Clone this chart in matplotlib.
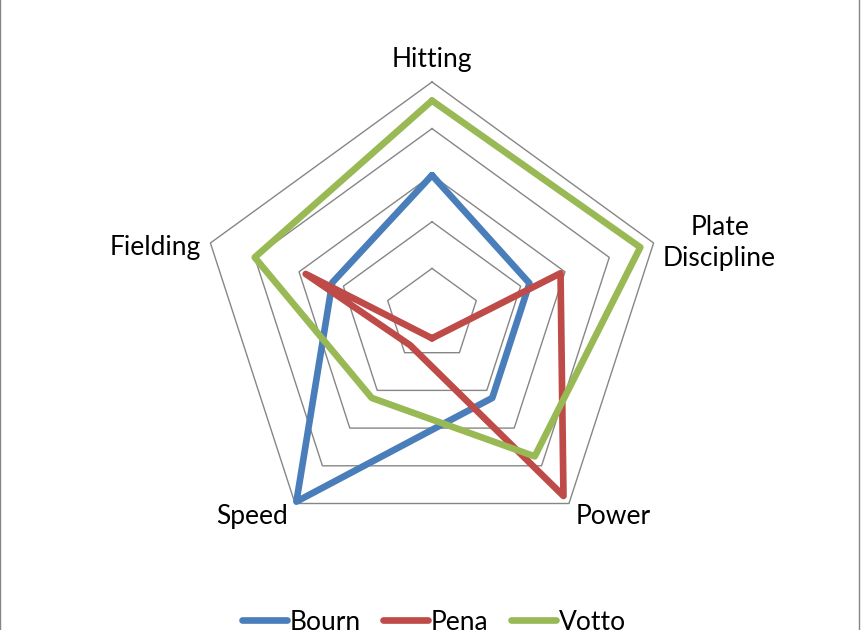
import numpy as np
import matplotlib
matplotlib.use('Agg')
from matplotlib import pyplot as plt
from matplotlib.lines import Line2D

plt.rcParams['font.family'] = ['Lato', 'DejaVu Sans']

# categories go clockwise from the top
categories = ['Hitting', 'Plate\nDiscipline', 'Power', 'Speed', 'Fielding']
players = ['Bourn', 'Pena', 'Votto']
bourn = [3.0, 2.2, 2.2, 4.95, 2.25]
pena = [-0.5, 2.9, 4.8, 0.8, 2.85]
votto = [4.6, 4.7, 3.75, 2.2, 4.0]
ring_levels = [1, 2, 3, 4, 5]

colors = ['#4A7EBB', '#BE4B48', '#98B954']

# label placement relative to the outer vertex (pixels, ha, va)
label_style = [
    ((0, 15), 'center', 'baseline'),
    ((66, 0), 'center', 'center'),
    ((7, -20), 'left', 'baseline'),
    ((-7, -20), 'right', 'baseline'),
    ((-10, -12), 'right', 'baseline'),
]


def spoke_xy(vals, close=True):
    n = len(vals)
    ang = np.pi / 2 - 2 * np.pi * np.arange(n) / n
    v = np.asarray(vals, dtype=float)
    x = v * np.cos(ang)
    y = v * np.sin(ang)
    if close:
        return np.append(x, x[0]), np.append(y, y[0])
    return x, y


fig = plt.figure(figsize=(8.62, 6.30), dpi=100)
ax = fig.add_axes([0, 0, 1, 1])
px = 46.6  # pixels per ring
ax.set_xlim(-432 / px, (862 - 432) / px)
ax.set_ylim(-(630 - 315) / px, 315 / px)
ax.axis('off')

for lvl in ring_levels:
    x, y = spoke_xy([lvl] * len(categories))
    ax.plot(x, y, color='#868686', lw=1.0, zorder=1)

for name, vals, c in zip(players, [bourn, pena, votto], colors):
    x, y = spoke_xy(vals)
    ax.plot(x, y, color=c, lw=4.8, label=name, solid_joinstyle='round',
            solid_capstyle='round', zorder=2)

# category labels just outside the outer ring
vx, vy = spoke_xy([ring_levels[-1]] * len(categories), close=False)
for cat, x0, y0, (off, ha, va) in zip(categories, vx, vy, label_style):
    ax.annotate(cat, (x0, y0), xytext=off, textcoords='offset pixels',
                ha=ha, va=va, fontsize=19, multialignment='center',
                linespacing=1.3)

ax.legend(loc='center', bbox_to_anchor=(434 / 862, 8 / 630),
          bbox_transform=fig.transFigure, ncol=3, frameon=False,
          fontsize=19, handlelength=1.7, handletextpad=0.1,
          columnspacing=0.85, borderpad=0)

# thin chart frame on the sides
fig.add_artist(Line2D([0.5 / 862, 0.5 / 862], [0, 1], color='#868686', lw=1.0))
fig.add_artist(Line2D([859.5 / 862, 859.5 / 862], [0, 1], color='#868686', lw=1.0))

fig.savefig('out.png', dpi=100)
